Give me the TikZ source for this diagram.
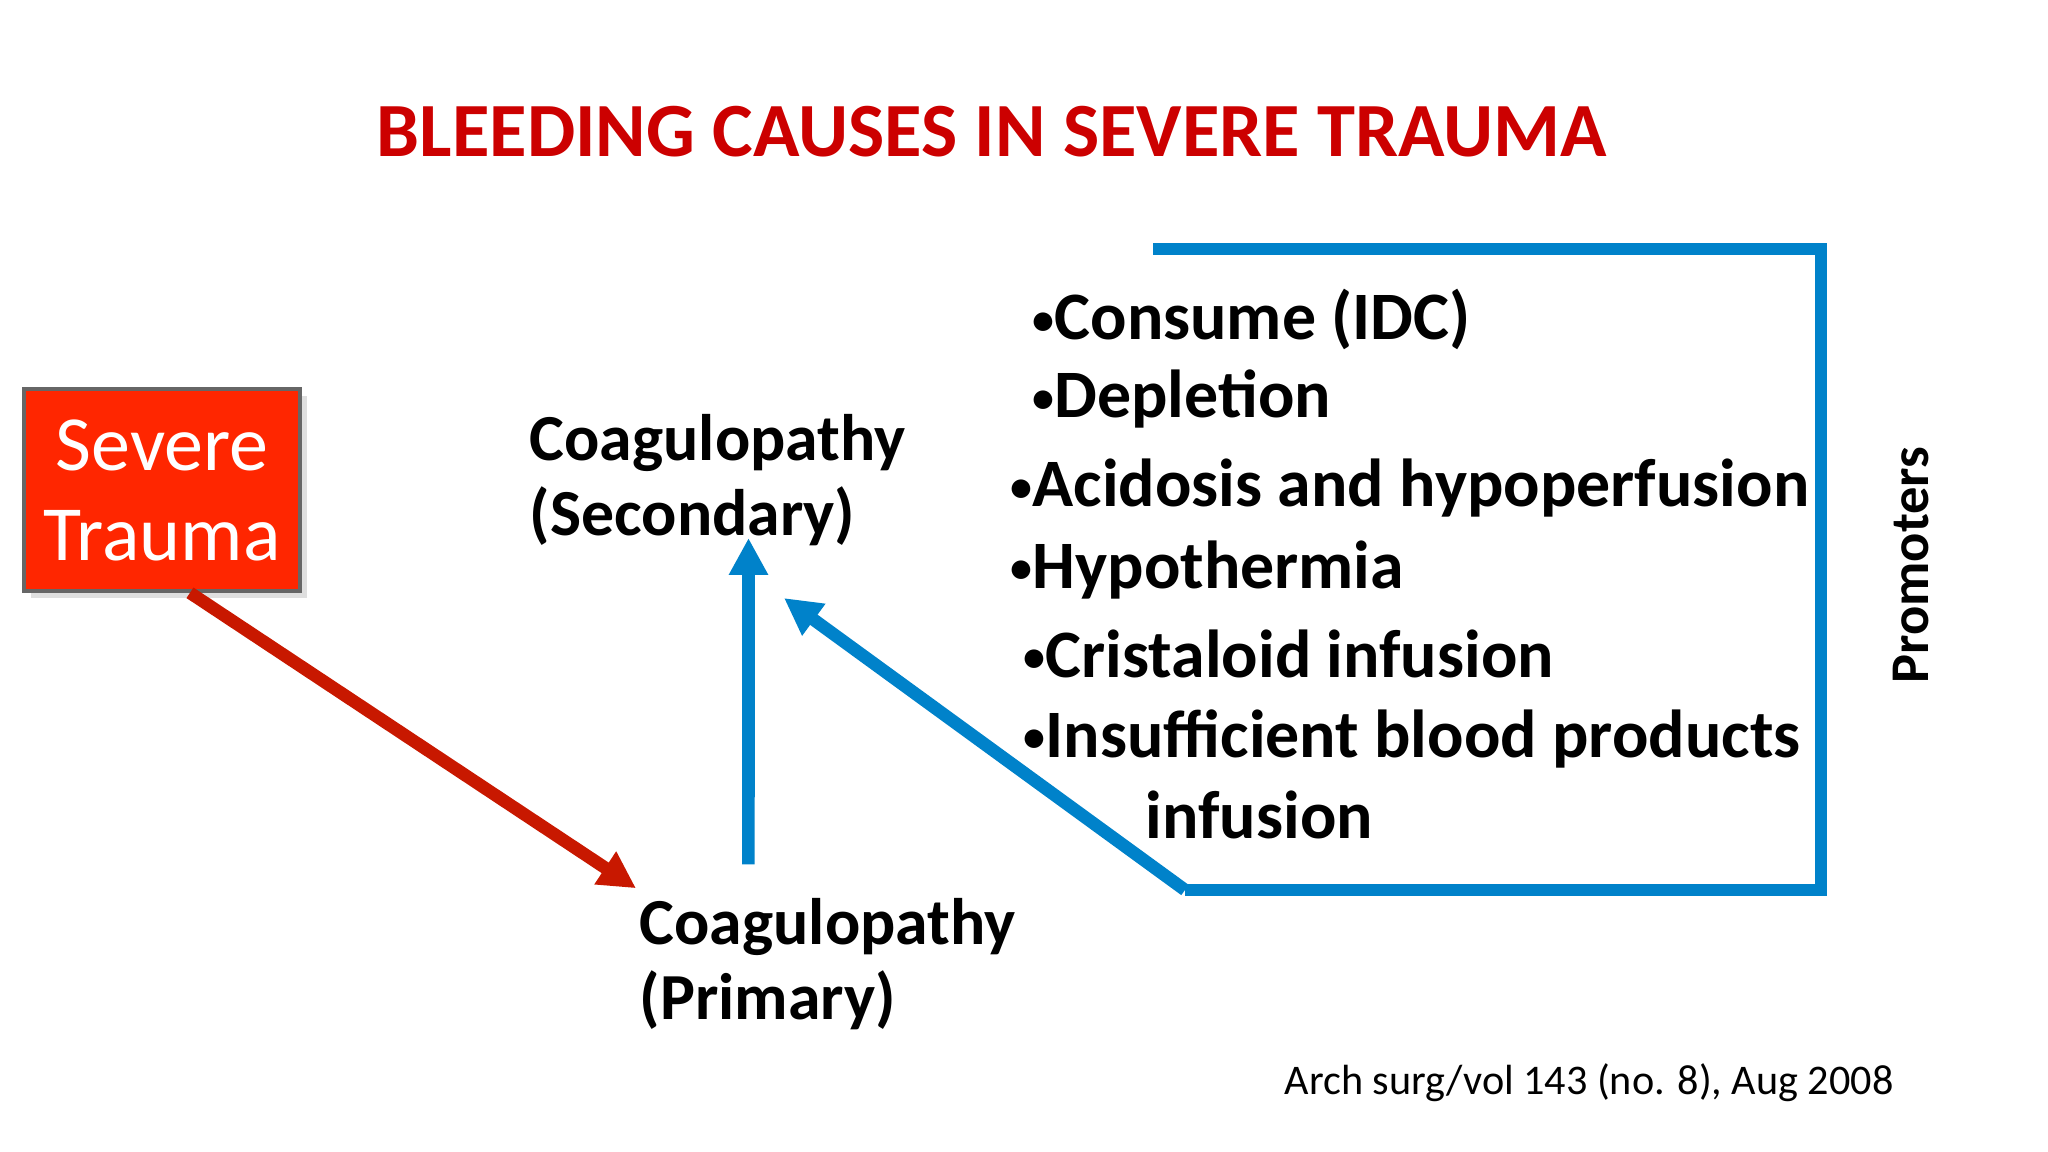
\documentclass[tikz,border=0pt]{standalone}
\usepackage{fontspec}
\setmainfont{Carlito}
\usetikzlibrary{arrows.meta,positioning,calc,shadows}
\definecolor{titlered}{RGB}{204,0,0}
\definecolor{boxred}{RGB}{255,38,0}
\definecolor{arrowred}{RGB}{200,24,0}
\definecolor{promblue}{RGB}{0,130,202}
\newcommand\bul{{\fontsize{12.5}{12}\selectfont\raisebox{1.6pt}{•}}}

\begin{document}
\begin{tikzpicture}[
  x=0.01cm, y=-0.01cm,
  lbl/.style={inner sep=0pt, align=left, anchor=base west,
    font=\fontsize{18.7}{21.3}\selectfont\bfseries},
  item/.style={inner sep=0pt, anchor=base west,
    font=\fontsize{19.3}{22}\selectfont\bfseries},
  redarr/.style={-{Triangle[length=10.5pt,width=10.5pt]}, line width=3.6pt, draw=arrowred},
  bluarr/.style={-{Triangle[length=10.5pt,width=10.5pt]}, line width=3.6pt, draw=promblue},
  bline/.style={line width=3.6pt, draw=promblue}
]
\useasboundingbox (0,0) rectangle (2048,1152);

% ── title ────────────────────────────────────────────────────────────────
\node[font=\fontsize{21.8}{26}\selectfont\bfseries, text=titlered, anchor=base]
  (title) at (992,157) {BLEEDING CAUSES IN SEVERE TRAUMA};

% ── cause and the two coagulopathies ─────────────────────────────────────
\node[draw=black!60, line width=1pt, fill=boxred, text=white, align=center,
  minimum width=2.76cm, minimum height=2.02cm,
  font=\fontsize{22.2}{25.6}\selectfont,
  drop shadow={opacity=0.25, shadow xshift=2pt, shadow yshift=-2pt}]
  (trauma) at (162,490) {Severe\\Trauma};
\node[lbl] (secondary) at (529,535) {Coagulopathy\\(Secondary)};
\node[lbl] (primary) at (639,1019) {Coagulopathy\\(Primary)};

% ── promoters ────────────────────────────────────────────────────────────
\node[item] (consume) at (1032,340) {\bul Consume (IDC)};
\node[item] (depletion) at (1032,418) {\bul Depletion};
\node[item] (acidosis) at (1010,507) {\bul Acidosis and hypoperfusion};
\node[item] (hypotherm) at (1010,588) {\bul Hypothermia};
\node[item] (cristal) at (1023,677) {\bul Cristaloid infusion};
\node[item] (insuff) at (1023,757) {\bul Insufficient blood products};
\node[item] (infusion) at (1145,838) {infusion};
\node[rotate=90, inner sep=0pt, font=\fontsize{15.5}{18}\selectfont\bfseries]
  (promoters) at (1911,565) {Promoters};

\coordinate (corner) at (1185,890);
\draw[bline] (1153,249) -- (1821,249) -- (1821,890) -- (corner);

% ── arrows ───────────────────────────────────────────────────────────────
\draw[redarr] ($(trauma.south west)!0.6!(trauma.south east)$)
  -- ($(primary.north west)+(-3,-9)$);
\draw[bluarr] ($(primary.north west)!0.29!(primary.north east)+(0,-33)$)
  -- ($(secondary.south west)!0.582!(secondary.south east)+(0,-8)$);
\draw[bluarr] (corner)
  -- ($(secondary.south west)!0.676!(secondary.south east)+(0,52)$);

% ── source ───────────────────────────────────────────────────────────────
\node[inner sep=0pt, anchor=base west, font=\fontsize{12}{14}\selectfont]
  (cite) at (1284,1094) {Arch surg/vol 143 (no. 8), Aug 2008};

\end{tikzpicture}
\end{document}
